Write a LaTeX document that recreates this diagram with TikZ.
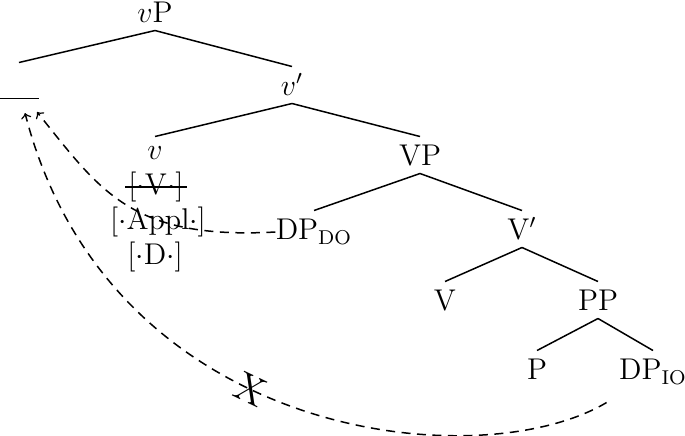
\documentclass[tikz,border=0pt]{standalone}
\usepackage{amsmath}
\begin{document}
\begin{tikzpicture}[x=0.4pt,y=-0.4pt,
  font=\fontsize{12}{14}\selectfont,
  lab/.style={inner sep=0pt, text height=9pt, text depth=3pt},
  branch/.style={line width=0.6pt},
  mv/.style={->, line width=0.6pt, dash pattern=on 3.6pt off 2.6pt}]
\useasboundingbox (0,0) rectangle (685,435);
% nodes
\node[lab] (vP) at (155,15) {$v$P};
\node[lab] (vbar) at (292,88) {$v'$};
\node[inner sep=0pt, minimum width=15.2pt, minimum height=14pt] (spec) at (19,80.5) {};
\draw[branch] (spec.south west) -- (spec.south east);
\node[lab] (v) at (155,152) {$v$};
\node[lab] (fV) at (156,187) {[$\cdot$V$\cdot$]};
\node[lab] (fA) at (158,222) {[$\cdot$Appl$\cdot$]};
\node[lab] (fD) at (155,257) {[$\cdot$D$\cdot$]};
\draw[line width=0.5pt] ([xshift=-1pt]fV.west) -- ([xshift=1pt]fV.east);
\node[lab] (VP) at (420,158) {VP};
\node[lab] (DPDO) at (314,232) {DP$_{\text{DO}}$};
\node[lab] (Vbar) at (522,232) {V$'$};
\node[lab] (V) at (445,303) {V};
\node[lab] (PP) at (598,303) {PP};
\node[lab] (P) at (537,372) {P};
\node[lab] (DPIO) at (653,372) {DP$_{\text{IO}}$};
% branches
\draw[branch] (vP.south) -- (spec.north);
\draw[branch] (vP.south) -- ([yshift=2.4pt]vbar.north);
\draw[branch] (vbar.south) -- (v.north);
\draw[branch] (vbar.south) -- ([yshift=2.4pt]VP.north);
\draw[branch] (VP.south) -- ([yshift=2.4pt]DPDO.north);
\draw[branch] (VP.south) -- ([yshift=2.4pt]Vbar.north);
\draw[branch] (Vbar.south) -- ([yshift=2.4pt]V.north);
\draw[branch] (Vbar.south) -- ([yshift=2.4pt]PP.north);
\draw[branch] (PP.south) -- ([yshift=2.4pt]P.north);
\draw[branch] (PP.south) -- ([yshift=2.4pt]DPIO.north);
% movement arrows
\coordinate (t1) at (37,112);
\coordinate (t2) at (25,113);
\draw[mv] (DPDO.west) .. controls (130,240) and (100,190) .. (t1);
\draw[mv] ([shift={(-12,15)}]DPIO.south west) .. controls (480,478) and (110,442) .. (t2)
  node[pos=0.57, sloped, solid, inner sep=0pt, scale=1.35] (blk) {X};
\end{tikzpicture}
\end{document}
